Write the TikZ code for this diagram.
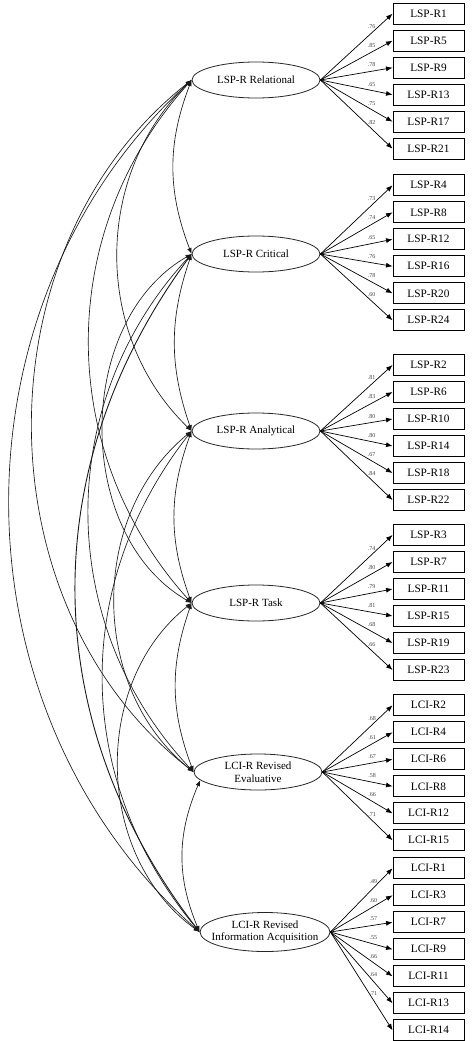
\documentclass[tikz,border=0pt]{standalone}
\usepackage{fontspec}
\setmainfont{Liberation Serif}
\usetikzlibrary{
    positioning,
    arrows.meta,
    shapes.geometric
}

\begin{document}
\begin{tikzpicture}[
    x=1pt, y=-1pt,
    % Estilos de nodos
    latent/.style={ellipse, draw=black!85, line width=0.8pt, minimum width=128pt, minimum height=36pt, inner sep=0pt, align=center, font=\fontsize{11}{12.5}\selectfont},
    item/.style={rectangle, draw=black, line width=0.9pt, minimum width=71pt, minimum height=21pt, inner sep=0pt, font=\fontsize{11.3}{12}\selectfont},
    % Estilos de flechas
    load/.style={-{Latex[length=6.5pt,width=5pt]}, line width=0.7pt, draw=black},
    cov/.style={{Latex[length=6pt,width=4.5pt]}-{Latex[length=6pt,width=4.5pt]}, line width=0.65pt, draw=black!90},
    lbl/.style={pos=.71, above=4pt, inner sep=0pt, text=black!75, font=\fontsize{6}{6}\selectfont}
]
\useasboundingbox (0,0) rectangle (474,1041);

% --- FACTORES ---
\node[latent] (rel) at (256,80) {LSP-R Relational};
\node[latent] (crit) at (256,254) {LSP-R Critical};
\node[latent] (anal) at (256,431) {LSP-R Analytical};
\node[latent] (task) at (256,603) {LSP-R Task};
\node[latent] (eval) at (258,772) {LCI-R Revised\\Evaluative};
\node[latent, minimum width=130pt, minimum height=39pt, inner xsep=-12pt] (info) at (265,932) {LCI-R Revised\\Information Acquisition};

% --- LSP-R Relational ---
\node[item] (lsp1) at (428.5,13.7) {LSP-R1};
\node[item] (lsp5) [below=5.1pt of lsp1] {LSP-R5};
\node[item] (lsp9) [below=5.1pt of lsp5] {LSP-R9};
\node[item] (lsp13) [below=5.1pt of lsp9] {LSP-R13};
\node[item] (lsp17) [below=5.1pt of lsp13] {LSP-R17};
\node[item] (lsp21) [below=5.1pt of lsp17] {LSP-R21};
\draw[load] (rel.east) -- node[lbl] {.76} (lsp1.west);
\draw[load] (rel.east) -- node[lbl] {.85} (lsp5.west);
\draw[load] (rel.east) -- node[lbl] {.78} (lsp9.west);
\draw[load] (rel.east) -- node[lbl] {.65} (lsp13.west);
\draw[load] (rel.east) -- node[lbl] {.75} (lsp17.west);
\draw[load] (rel.east) -- node[lbl] {.82} (lsp21.west);

% --- LSP-R Critical ---
\node[item] (lsp4) at (428.5,185.3) {LSP-R4};
\node[item] (lsp8) [below=5.1pt of lsp4] {LSP-R8};
\node[item] (lsp12) [below=5.1pt of lsp8] {LSP-R12};
\node[item] (lsp16) [below=5.1pt of lsp12] {LSP-R16};
\node[item] (lsp20) [below=5.1pt of lsp16] {LSP-R20};
\node[item] (lsp24) [below=5.1pt of lsp20] {LSP-R24};
\draw[load] (crit.east) -- node[lbl] {.73} (lsp4.west);
\draw[load] (crit.east) -- node[lbl] {.74} (lsp8.west);
\draw[load] (crit.east) -- node[lbl] {.65} (lsp12.west);
\draw[load] (crit.east) -- node[lbl] {.76} (lsp16.west);
\draw[load] (crit.east) -- node[lbl] {.78} (lsp20.west);
\draw[load] (crit.east) -- node[lbl] {.60} (lsp24.west);

% --- LSP-R Analytical ---
\node[item] (lsp2) at (428.5,365) {LSP-R2};
\node[item] (lsp6) [below=5.1pt of lsp2] {LSP-R6};
\node[item] (lsp10) [below=5.1pt of lsp6] {LSP-R10};
\node[item] (lsp14) [below=5.1pt of lsp10] {LSP-R14};
\node[item] (lsp18) [below=5.1pt of lsp14] {LSP-R18};
\node[item] (lsp22) [below=5.1pt of lsp18] {LSP-R22};
\draw[load] (anal.east) -- node[lbl] {.81} (lsp2.west);
\draw[load] (anal.east) -- node[lbl] {.83} (lsp6.west);
\draw[load] (anal.east) -- node[lbl] {.80} (lsp10.west);
\draw[load] (anal.east) -- node[lbl] {.80} (lsp14.west);
\draw[load] (anal.east) -- node[lbl] {.67} (lsp18.west);
\draw[load] (anal.east) -- node[lbl] {.84} (lsp22.west);

% --- LSP-R Task ---
\node[item] (lsp3) at (428.5,535) {LSP-R3};
\node[item] (lsp7) [below=5.1pt of lsp3] {LSP-R7};
\node[item] (lsp11) [below=5.1pt of lsp7] {LSP-R11};
\node[item] (lsp15) [below=5.1pt of lsp11] {LSP-R15};
\node[item] (lsp19) [below=5.1pt of lsp15] {LSP-R19};
\node[item] (lsp23) [below=5.1pt of lsp19] {LSP-R23};
\draw[load] (task.east) -- node[lbl] {.74} (lsp3.west);
\draw[load] (task.east) -- node[lbl] {.80} (lsp7.west);
\draw[load] (task.east) -- node[lbl] {.79} (lsp11.west);
\draw[load] (task.east) -- node[lbl] {.81} (lsp15.west);
\draw[load] (task.east) -- node[lbl] {.68} (lsp19.west);
\draw[load] (task.east) -- node[lbl] {.66} (lsp23.west);

% --- LCI-R Evaluative ---
\node[item] (lci2) at (428.5,705.3) {LCI-R2};
\node[item] (lci4) [below=5.1pt of lci2] {LCI-R4};
\node[item] (lci6) [below=5.1pt of lci4] {LCI-R6};
\node[item] (lci8) [below=5.1pt of lci6] {LCI-R8};
\node[item] (lci12) [below=5.1pt of lci8] {LCI-R12};
\node[item] (lci15) [below=5.1pt of lci12] {LCI-R15};
\draw[load] (eval.east) -- node[lbl] {.68} (lci2.west);
\draw[load] (eval.east) -- node[lbl] {.61} (lci4.west);
\draw[load] (eval.east) -- node[lbl] {.67} (lci6.west);
\draw[load] (eval.east) -- node[lbl] {.58} (lci8.west);
\draw[load] (eval.east) -- node[lbl] {.66} (lci12.west);
\draw[load] (eval.east) -- node[lbl] {.71} (lci15.west);

% --- LCI-R Information Acquisition ---
\node[item] (lci1) at (428.5,868.3) {LCI-R1};
\node[item] (lci3) [below=5.1pt of lci1] {LCI-R3};
\node[item] (lci7) [below=5.1pt of lci3] {LCI-R7};
\node[item] (lci9) [below=5.1pt of lci7] {LCI-R9};
\node[item] (lci11) [below=5.1pt of lci9] {LCI-R11};
\node[item] (lci13) [below=5.1pt of lci11] {LCI-R13};
\node[item] (lci14) [below=5.1pt of lci13] {LCI-R14};
\draw[load] (info.east) -- node[lbl, pos=.69] {.49} (lci1.west);
\draw[load] (info.east) -- node[lbl, pos=.69] {.60} (lci3.west);
\draw[load] (info.east) -- node[lbl, pos=.69] {.57} (lci7.west);
\draw[load] (info.east) -- node[lbl, pos=.69] {.55} (lci9.west);
\draw[load] (info.east) -- node[lbl, pos=.69] {.66} (lci11.west);
\draw[load] (info.east) -- node[lbl, pos=.69] {.64} (lci13.west);
\draw[load] (info.east) -- node[lbl, pos=.69] {.71} (lci14.west);

% --- COVARIANZAS ---
\draw[cov] (rel.west) to[bend right=21] (crit.west);
\draw[cov] (crit.west) to[bend right=19] (anal.west);
\draw[cov] (anal.west) to[bend right=20] (task.west);
\draw[cov] (task.west) to[bend right=20] (eval.west);
\draw[cov] (eval.188) to[bend right=23] (info.west);
\draw[cov] (rel.west) to[bend right=46] (anal.west);
\draw[cov] (crit.west) to[bend right=60] (task.west);
\draw[cov] (anal.west) to[bend right=51] (eval.west);
\draw[cov] (task.west) to[bend right=53] (info.west);
\draw[cov] (rel.west) to[bend right=42] (task.west);
\draw[cov] (crit.west) to[bend right=43] (eval.west);
\draw[cov] (anal.west) to[bend right=39] (info.west);
\draw[cov] (rel.west) to[bend right=52] (eval.west);
\draw[cov, line width=0.9pt] (crit.west) to[bend right=37] (info.west);
\draw[cov] (rel.west) to[bend right=48] (info.west);

\end{tikzpicture}
\end{document}
